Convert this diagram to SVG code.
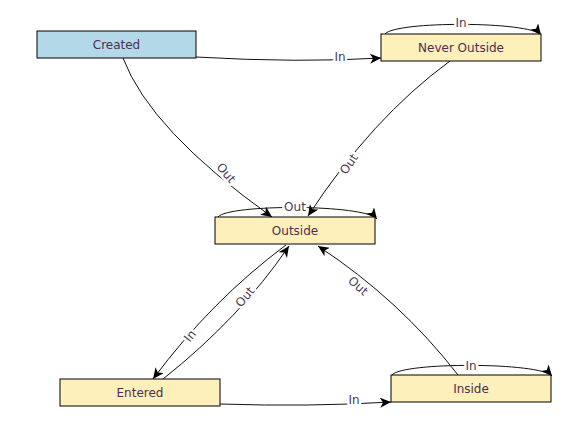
<svg xmlns="http://www.w3.org/2000/svg" width="582" height="430" viewBox="0 0 582 430">
<style>
.node rect{stroke:#000;stroke-width:1}
.state{fill:#fef0bb}
.start{fill:#b3d8e7}
text{font-family:"DejaVu Sans","Liberation Sans",sans-serif;font-size:12px;text-anchor:middle;dominant-baseline:central}
.nt{fill:#4d2d52}
.edge{fill:none;stroke:#111;stroke-width:1;marker-end:url(#arr)}
.lbl{fill:#4a3a55;stroke:#fff;stroke-width:5;paint-order:stroke;stroke-linejoin:round}
</style>
<defs>
<marker id="arr" markerUnits="userSpaceOnUse" markerWidth="12" markerHeight="10" refX="11" refY="5" orient="auto">
<path d="M0,0 L11,5 L0,10 L3,5 Z" fill="#000"/>
</marker>
</defs>
<rect width="582" height="430" fill="#fff"/>
<g id="connectors">
<path class="edge" d="M196,57 Q300,63 381,58"/>
<path class="edge" d="M385,34 C395,21 530,21 541,35"/>
<path class="edge" d="M123,58 Q150,130 272,217"/>
<path class="edge" d="M450,61 Q372,118 308,216"/>
<path class="edge" d="M218,217 C228,204 365,204 377,219"/>
<path class="edge" d="M286,245 Q212,300 153,379"/>
<path class="edge" d="M163,379 Q240,318 289,246"/>
<path class="edge" d="M458,375 Q400,300 318,246"/>
<path class="edge" d="M392,375 C402,362 540,362 552,376"/>
<path class="edge" d="M220,404 Q310,407 391,402"/>
<text class="lbl" x="340" y="57">In</text>
<text class="lbl" x="461" y="23">In</text>
<text class="lbl" x="226" y="173" transform="rotate(50 226 173)">Out</text>
<text class="lbl" x="349" y="164" transform="rotate(-55 349 164)">Out</text>
<text class="lbl" x="295" y="207">Out</text>
<text class="lbl" x="190" y="336" transform="rotate(-52 190 336)">In</text>
<text class="lbl" x="245" y="297" transform="rotate(-50 245 297)">Out</text>
<text class="lbl" x="358" y="286" transform="rotate(42 358 286)">Out</text>
<text class="lbl" x="471" y="366">In</text>
<text class="lbl" x="354" y="400">In</text>
</g>
<g id="created" class="node"><rect class="start" x="37" y="31" width="159" height="27"/><text class="nt" x="116.5" y="44.5">Created</text></g>
<g id="never-outside" class="node"><rect class="state" x="381" y="34" width="160" height="27"/><text class="nt" x="461" y="47.5">Never Outside</text></g>
<g id="outside" class="node"><rect class="state" x="215" y="217" width="160" height="27"/><text class="nt" x="295" y="230.5">Outside</text></g>
<g id="entered" class="node"><rect class="state" x="60" y="379" width="160" height="27"/><text class="nt" x="140" y="392.5">Entered</text></g>
<g id="inside" class="node"><rect class="state" x="391" y="375" width="160" height="27"/><text class="nt" x="471" y="388.5">Inside</text></g>
</svg>
